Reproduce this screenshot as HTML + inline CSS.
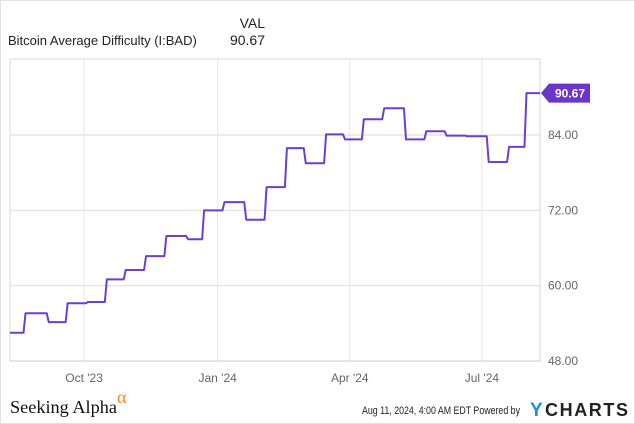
<!DOCTYPE html>
<html><head><meta charset="utf-8"><style>
body{margin:0;background:#fff;font-family:"Liberation Sans",sans-serif}
svg{display:block}
</style></head><body>
<svg width="635" height="424" viewBox="0 0 635 424">
<rect x="0.5" y="0.5" width="634" height="423" fill="#fff" stroke="#e2e2e2"/>
<text x="8" y="45" font-size="13" fill="#222">Bitcoin Average Difficulty (I:BAD)</text>
<text x="265" y="28" font-size="14" fill="#222" text-anchor="end">VAL</text>
<text x="265" y="45" font-size="14" fill="#222" text-anchor="end">90.67</text>
<g id="grid"></g>
<g id="plot"></g>
<text x="10" y="413" font-size="18" fill="#111" font-family="Liberation Serif,serif" textLength="107" lengthAdjust="spacingAndGlyphs">Seeking Alpha</text>
<text x="117" y="403" font-size="18" fill="#f28a1e" font-family="Liberation Serif,serif">α</text>
<text x="362" y="414" font-size="11" fill="#222" textLength="158" lengthAdjust="spacingAndGlyphs">Aug 11, 2024, 4:00 AM EDT Powered by</text>
<text x="530" y="416" font-size="19" font-weight="bold" fill="#1e90e0">Y</text>
<text x="545" y="416" font-size="18" font-weight="bold" fill="#222" textLength="83" lengthAdjust="spacing">CHARTS</text>
</svg>
<script>
const stepDays=[0,10,26,39,53,66,79,93,107,122,133,147,162,176,190,203,217,230,243,257,272,286,300,314,329,343,355];
const stepValues=[52.5,55.6,54.2,57.2,57.4,61.0,62.5,64.7,67.9,67.4,72.0,73.3,70.5,75.7,81.9,79.5,84.1,83.3,86.5,88.25,83.3,84.6,83.9,83.8,79.7,82.1,90.67];
const endDay=365;
const yTicks=[48,60,72,84];
const yTickLabels=["48.00","60.00","72.00","84.00"];
const xTickDays=[51,143,234,325];
const xTickLabels=["Oct '23","Jan '24","Apr '24","Jul '24"];
const lastLabel="90.67";
const NS="http://www.w3.org/2000/svg";
const L=10,R=540,T=59,B=361;
const x=d=>L+d*(R-L)/endDay;
const y=v=>B-(v-48)*(B-T)/(96.1-48);
function mk(t,a,p){const e=document.createElementNS(NS,t);for(const k in a)e.setAttribute(k,a[k]);p.appendChild(e);return e;}
const grid=document.getElementById('grid'),plot=document.getElementById('plot');
yTicks.forEach((v,i)=>{
 const l=mk('line',{x1:L,x2:R,y1:y(v),y2:y(v),stroke:'#e6e6e6','stroke-width':1.5},grid);
 
 
 const t=mk('text',{x:548,y:y(v)+4,'font-size':12,fill:'#666'},grid);t.textContent=yTickLabels[i];
 
 
});
xTickDays.forEach((d,i)=>{
 const l=mk('line',{x1:x(d),x2:x(d),y1:T,y2:B,stroke:'#e6e6e6','stroke-width':1},grid);
 
 
 const t=mk('text',{x:x(d),y:382,'font-size':12,fill:'#666','text-anchor':'middle'},grid);t.textContent=xTickLabels[i];
 
 
});
const ax=mk('path',{d:`M${L},${T}V${B}H${R}V${T}H${L}`,fill:'none',stroke:'#d8d8d8','stroke-width':1},grid);


let d=`M${x(stepDays[0])},${y(stepValues[0])}`;
for(let i=1;i<stepDays.length;i++){
 d+=`L${x(stepDays[i])-1},${y(stepValues[i-1])}L${x(stepDays[i])+1},${y(stepValues[i])}`;
}
d+=`L${x(endDay)},${y(stepValues[stepValues.length-1])}`;
const line=mk('path',{d,fill:'none',stroke:'#6b3fd2','stroke-width':2,'stroke-linejoin':'round'},plot);


const ly=y(stepValues[stepValues.length-1]);
const tag=mk('path',{d:`M${R+1},${ly}L${R+9},${ly-9.5}H${R+50}V${ly+9.5}H${R+9}Z`,fill:'#6a35c8'},plot);


const tt=mk('text',{x:R+30,y:ly+4.5,'font-size':12,'font-weight':'bold',fill:'#fff','text-anchor':'middle'},plot);tt.textContent=lastLabel;


</script>
</body></html>
